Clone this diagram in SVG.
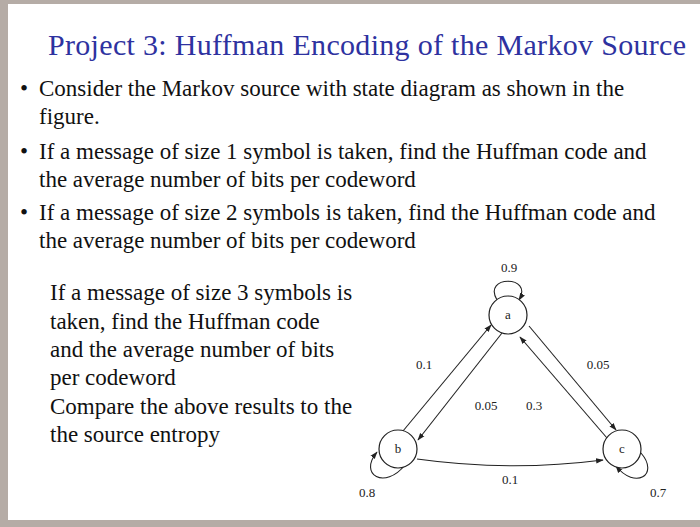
<svg xmlns="http://www.w3.org/2000/svg" width="700" height="527" viewBox="0 0 700 527">
<defs>
<marker id="ar" viewBox="0 0 10 10" refX="9" refY="5" markerWidth="7" markerHeight="7" orient="auto"><path d="M0,1.5 L10,5 L0,8.5 z" fill="#222"/></marker>
<style>
.t{font-family:"Liberation Serif",serif;font-size:23px;fill:#111}
.s{font-family:"Liberation Serif",serif;font-size:13px;fill:#222}
.n{fill:#fff;stroke:#222;stroke-width:1.2}
.e{fill:none;stroke:#222;stroke-width:1.1;marker-end:url(#ar)}
</style>
</defs>
<rect width="700" height="527" fill="#b5aca6"/>
<rect x="8" y="4" width="692" height="516" fill="#fff"/>
<text x="48" y="55" font-family="Liberation Serif,serif" font-size="30" fill="#2e32a0" textLength="638">Project 3: Huffman Encoding of the Markov Source</text>
<g class="t">
<text x="20" y="96">•</text><text x="39" y="96">Consider the Markov source with state diagram as shown in the</text>
<text x="39" y="124">figure.</text>
<text x="20" y="159">•</text><text x="39" y="159">If a message of size 1 symbol is taken, find the Huffman code and</text>
<text x="39" y="187">the average number of bits per codeword</text>
<text x="20" y="220">•</text><text x="39" y="220">If a message of size 2 symbols is taken, find the Huffman code and</text>
<text x="39" y="248">the average number of bits per codeword</text>
<text x="50" y="300">If a message of size 3 symbols is</text>
<text x="50" y="329">taken, find the Huffman code</text>
<text x="50" y="357">and the average number of bits</text>
<text x="50" y="385">per codeword</text>
<text x="50" y="414">Compare the above results to the</text>
<text x="50" y="442">the source entropy</text>
</g>
<g id="connectors">
<path class="e" d="M497,300 C482,275 534,275 519,300"/>
<path class="e" d="M405,465 C385,490 358,475 377,452"/>
<path class="e" d="M641,453 C660,475 635,490 616,466"/>
<path class="e" d="M403,431 L491,325"/>
<path class="e" d="M502,333 L418,440"/>
<path class="e" d="M529,326 L616,430"/>
<path class="e" d="M607,438 L520,337"/>
<path class="e" d="M417,459 Q510,472 603,460"/>
</g>
<g id="node-a"><circle class="n" cx="508" cy="315" r="19"/><text class="s" x="508" y="319" text-anchor="middle">a</text></g>
<g id="node-b"><circle class="n" cx="398" cy="449" r="19"/><text class="s" x="398" y="453" text-anchor="middle">b</text></g>
<g id="node-c"><circle class="n" cx="622" cy="449" r="19"/><text class="s" x="622" y="453" text-anchor="middle">c</text></g>
<g class="s" text-anchor="middle">
<text x="509" y="272">0.9</text>
<text x="424" y="369">0.1</text>
<text x="598" y="369">0.05</text>
<text x="486" y="410">0.05</text>
<text x="534" y="410">0.3</text>
<text x="510" y="484">0.1</text>
<text x="367" y="497">0.8</text>
<text x="658" y="497">0.7</text>
</g>
</svg>
